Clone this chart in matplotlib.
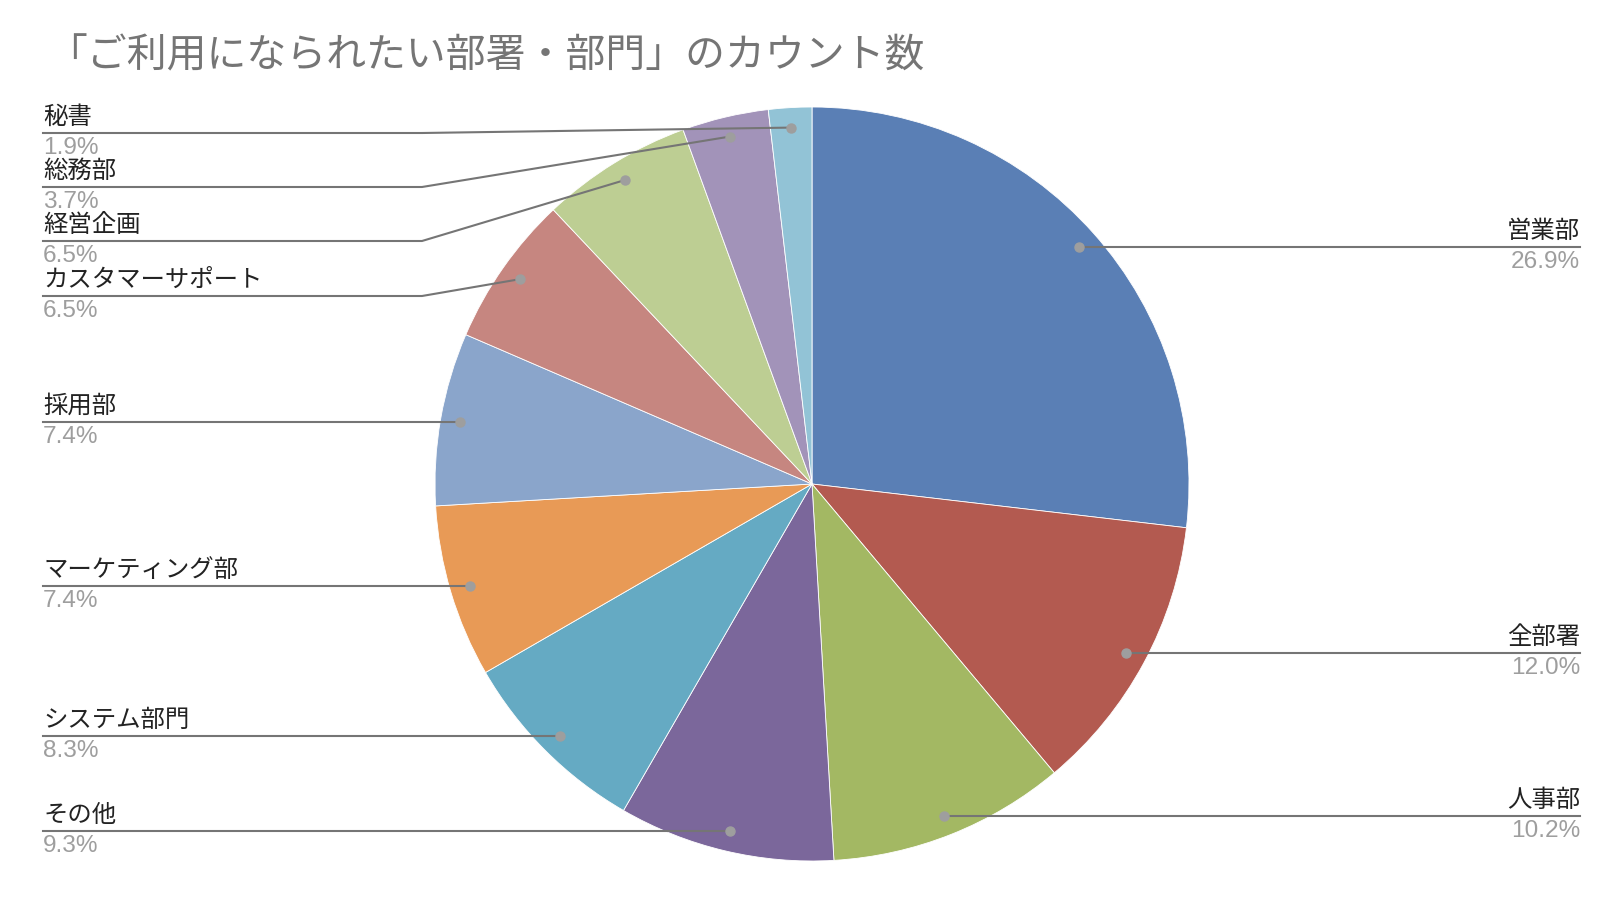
import matplotlib
matplotlib.use("Agg")
import matplotlib.pyplot as plt
import numpy as np

plt.rcParams['font.family'] = ['Noto Sans CJK JP', 'DejaVu Sans']

title = "「ご利用になられたい部署・部門」のカウント数"
categories = ["営業部", "全部署", "人事部", "その他", "システム部門", "マーケティング部",
              "採用部", "カスタマーサポート", "経営企画", "総務部", "秘書"]
counts = [29, 13, 11, 10, 9, 8, 8, 7, 7, 4, 2]
colors = ["#5a7fb5", "#b35a50", "#a3b863", "#7b679b", "#65aac3", "#e89a56",
          "#8aa5cb", "#c68680", "#bdce93", "#a293b9", "#92c3d6"]
# label line y positions for stacked left labels (pixel rows, layout); None = level with the dot
label_rows = [None, None, None, None, None, None, None, 297, 242, 188, 134]

W, H = 1622, 904
fig = plt.figure(figsize=(W / 100, H / 100), dpi=100)
ax = fig.add_axes([0, 0, 1, 1])

cx, cy, R = 812, H - 485, 377
wedges, _ = ax.pie(counts, colors=colors, startangle=90, counterclock=False,
                   center=(cx, cy), radius=R, frame=True,
                   wedgeprops=dict(edgecolor='white', linewidth=0.6))
ax.set_xlim(0, W)
ax.set_ylim(0, H)
ax.set_aspect('equal')
ax.axis('off')

total = sum(counts)
left_x, right_x, knee_left = 43, 1580, 422
name_kw = dict(fontsize=17.6, color='#222222')
pct_kw = dict(fontsize=17.6, color='#9e9e9e', family=['Liberation Sans', 'DejaVu Sans'])
for w, name, cnt, row in zip(wedges, categories, counts, label_rows):
    ang = np.deg2rad((w.theta1 + w.theta2) / 2)
    dx, dy = cx + 0.947 * R * np.cos(ang), cy + 0.947 * R * np.sin(ang)
    ly = dy if row is None else H - row
    pct = f"{100 * cnt / total:.1f}%"
    if dx > cx:
        ax.plot([dx, right_x], [dy, ly], color='#757575', lw=1.5, zorder=3)
        ax.text(right_x, ly + 4, name, ha='right', va='bottom', **name_kw)
        ax.text(right_x, ly - 3, pct, ha='right', va='top', **pct_kw)
    else:
        ax.plot([left_x, knee_left, dx], [ly, ly, dy], color='#757575', lw=1.5, zorder=3)
        ax.text(left_x, ly + 4, name, ha='left', va='bottom', **name_kw)
        ax.text(left_x, ly - 3, pct, ha='left', va='top', **pct_kw)
    ax.plot(dx, dy, 'o', color='#9e9e9e', ms=6.5, zorder=4)

fig.text(47 / W, 1 - 56 / H, title, ha='left', va='center', fontsize=28.7, color='#757575')

fig.savefig("out.png", dpi=100, facecolor='white')
